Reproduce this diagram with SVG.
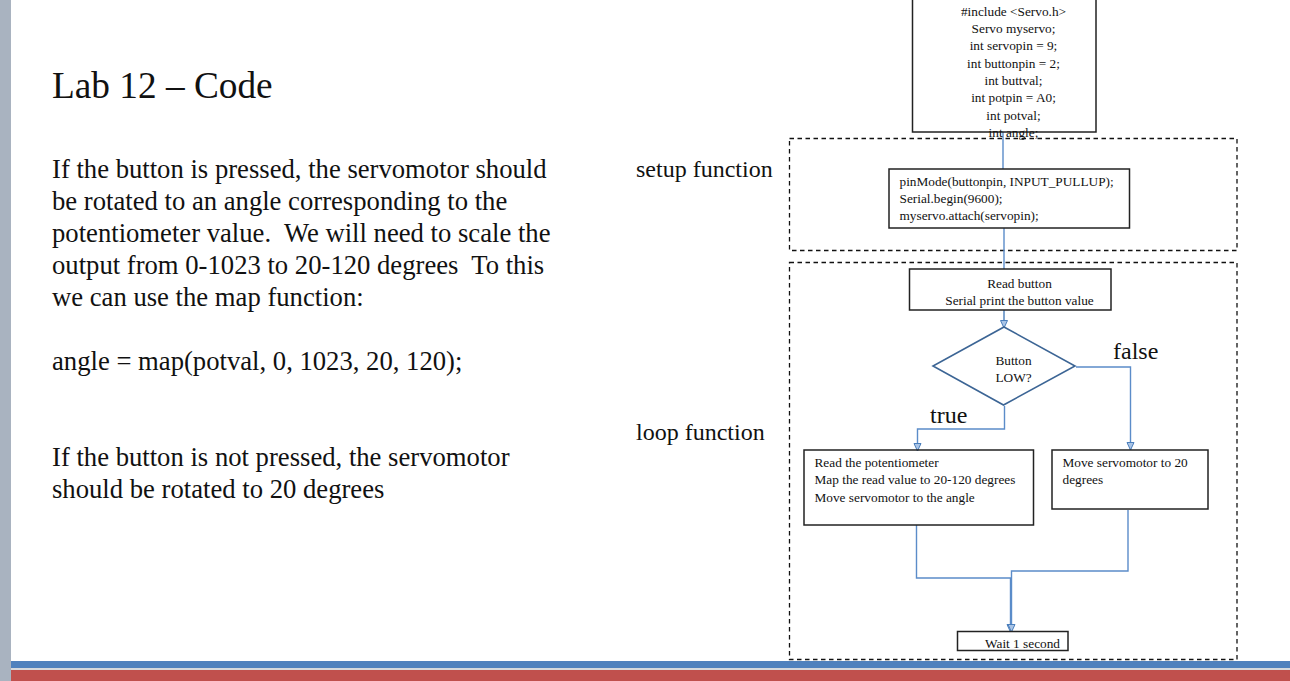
<svg xmlns="http://www.w3.org/2000/svg" width="1290" height="681" viewBox="0 0 1290 681">
<style>
text{font-family:"Liberation Serif","Times New Roman",serif;fill:#111;white-space:pre}
.s{font-size:13.3px}.m{font-size:26.67px}.l{font-size:24px}
.b{fill:none;stroke:#222;stroke-width:1.5}
.d{fill:none;stroke:#111;stroke-width:1.3;stroke-dasharray:4.5 3.5}
.c{fill:none;stroke:#5b8cc9;stroke-width:1.4}
.c2{fill:none;stroke:#4a7ebb;stroke-width:1.4}
</style>
<defs><marker id="a" markerWidth="10" markerHeight="10" refX="8" refY="4.500" orient="auto" markerUnits="userSpaceOnUse"><path d="M0.500 1L8 4.500L0.500 8Z" fill="#a9c4e6" stroke="#4a7ebb" stroke-width="1"/></marker></defs>
<rect width="1290" height="681" fill="#fff"/>
<g id="frame"><rect x="0" y="0" width="11" height="681" fill="#a9b3c0"/>
<rect x="11" y="661" width="1279" height="7" fill="#4f81bd"/><rect x="11" y="668" width="1279" height="2" fill="#d5d8dc"/><rect x="11" y="670" width="1279" height="11" fill="#c0504d"/></g>
<g id="slide-text">
<text x="52" y="98" font-size="37.300">Lab 12 – Code</text>
<text class="m" x="52" y="178">If the button is pressed, the servomotor should</text>
<text class="m" x="52" y="210">be rotated to an angle corresponding to the</text>
<text class="m" x="52" y="242">potentiometer value.  We will need to scale the</text>
<text class="m" x="52" y="274">output from 0-1023 to 20-120 degrees  To this</text>
<text class="m" x="52" y="306">we can use the map function:</text>
<text class="m" x="52" y="370">angle = map(potval, 0, 1023, 20, 120);</text>
<text class="m" x="52" y="466">If the button is not pressed, the servomotor</text>
<text class="m" x="52" y="498">should be rotated to 20 degrees</text>
<text class="l" x="636" y="177">setup function</text>
<text class="l" x="636" y="440">loop function</text>
<text class="l" x="1113" y="359">false</text>
<text class="l" x="930" y="423">true</text>
</g>
<g id="regions"><rect class="d" x="789.500" y="138.500" width="447.500" height="112"/><rect class="d" x="789.500" y="262.500" width="447.500" height="397"/></g>
<g id="connectors">
<path class="c" d="M1003 132V169"/><path class="c" d="M1004 228V269"/>
<path class="c2" d="M1004 310V328" marker-end="url(#a)"/>
<path class="c" d="M1004.500 406V429H917.500V451" marker-end="url(#a)"/>
<path class="c" d="M1076 367H1130.500V450" marker-end="url(#a)"/>
<path class="c" d="M916.500 525V578H1010.500V632" marker-end="url(#a)"/>
<path class="c" d="M1128 510V571H1011.500V632" marker-end="url(#a)"/>
</g>
<g id="n-globals"><rect class="b" x="912.500" y="-5" width="183.500" height="137"/>
<g class="s" text-anchor="middle"><text x="1013.500" y="16">#include &lt;Servo.h&gt;</text><text x="1013.500" y="33">Servo myservo;</text><text x="1013.500" y="50">int servopin = 9;</text><text x="1013.500" y="68">int buttonpin = 2;</text><text x="1013.500" y="85">int buttval;</text><text x="1013.500" y="102">int potpin = A0;</text><text x="1013.500" y="120">int potval;</text><text x="1013.500" y="137">int angle;</text></g></g>
<g id="n-setup"><rect class="b" x="889" y="169" width="240.500" height="59"/>
<g class="s"><text x="899.500" y="186">pinMode(buttonpin, INPUT_PULLUP);</text><text x="899.500" y="203">Serial.begin(9600);</text><text x="899.500" y="220">myservo.attach(servopin);</text></g></g>
<g id="n-read"><rect class="b" x="909.500" y="269" width="201.500" height="41"/>
<g class="s" text-anchor="middle"><text x="1019.500" y="288">Read button</text><text x="1019.500" y="305">Serial print the button value</text></g></g>
<g id="n-decision"><path d="M1004 327L1075 366L1003.500 405L933 366Z" fill="none" stroke="#3c6595" stroke-width="1.6"/>
<g class="s" text-anchor="middle"><text x="1013.500" y="365">Button</text><text x="1013.500" y="382">LOW?</text></g></g>
<g id="n-map"><rect class="b" x="804" y="450" width="229.500" height="75"/>
<g class="s"><text x="814.500" y="467">Read the potentiometer</text><text x="814.500" y="484">Map the read value to 20-120 degrees</text><text x="814.500" y="502">Move servomotor to the angle</text></g></g>
<g id="n-move"><rect class="b" x="1052" y="450" width="156" height="59"/>
<g class="s"><text x="1062.500" y="467">Move servomotor to 20</text><text x="1062.500" y="484">degrees</text></g></g>
<g id="n-wait"><rect class="b" x="957.500" y="631.500" width="110.500" height="19"/><text class="s" x="985" y="648">Wait 1 second</text></g>
</svg>
